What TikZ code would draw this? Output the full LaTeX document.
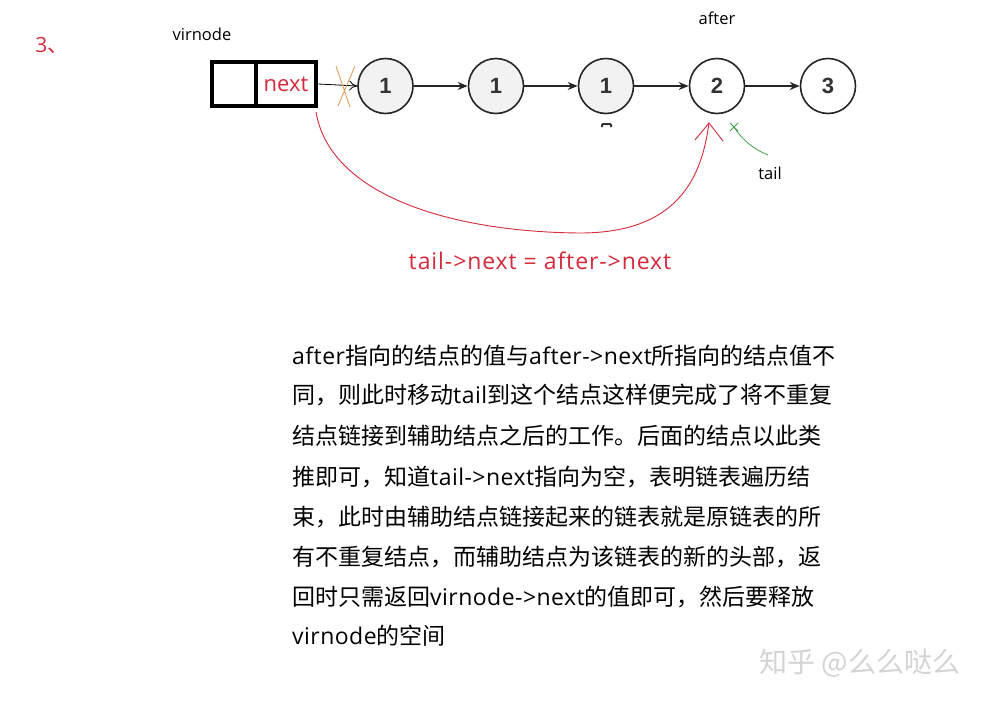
\documentclass[tikz,border=0pt]{standalone}
\usepackage{fontspec}
\setmainfont{Open Sans}
\newfontfamily\cjk{Noto Sans CJK SC}
\newfontfamily\numfont{Liberation Sans}
\newfontfamily\latinsp[LetterSpace=2]{Open Sans}
\newfontfamily\latinwide[LetterSpace=4]{Open Sans}
\usetikzlibrary{arrows.meta}
\definecolor{myred}{HTML}{D42A3C}
\definecolor{mygreen}{HTML}{3FA14A}
\definecolor{myorange}{HTML}{E0A060}
\definecolor{cfill}{HTML}{F2F2F2}
\definecolor{wm}{HTML}{D4D4D4}
\newcommand{\zh}[1]{{\cjk #1}}
\tikzset{
  lnode/.style={circle,draw=black!85,line width=1.6pt,minimum size=55pt,inner sep=0pt,text=black!80,font=\numfont\bfseries\fontsize{22}{22}\selectfont},
  gnode/.style={lnode,fill=cfill},
  wnode/.style={lnode,fill=white},
  link/.style={-{Stealth[length=10pt,width=8pt]},line width=1.4pt,black!85},
  lbl/.style={font=\fontsize{16.5}{16.5}\selectfont,inner sep=0pt},
  body/.style={font=\latinsp\fontsize{23}{23}\selectfont,anchor=base west,inner sep=0pt}
}
\begin{document}
\begin{tikzpicture}[x=1pt,y=-1pt]
\useasboundingbox (0,0) rectangle (994,707);
\fill[white] (0,0) rectangle (994,707);
% labels
\node[lbl,text=myred,font=\fontsize{21}{21}\selectfont] (three) at (52,45) {3\zh{、}};
\node[lbl] (virlbl) at (202,34) {virnode};
\node[lbl] (afterlbl) at (717,18) {after};
\node[lbl] (taillbl) at (770,173) {tail};
% virnode box
\node[draw,line width=4.5pt,minimum width=44pt,minimum height=44pt,inner sep=0pt] (vleft) at (234,84) {};
\node[draw,line width=4.5pt,minimum width=60pt,minimum height=44pt,inner sep=0pt,text=myred,font=\fontsize{22}{22}\selectfont] (vnext) at (286,84) {next};
% list nodes
\node[gnode] (n1) at (385.5,86) {1};
\node[gnode] (n2) at (496,86) {1};
\node[gnode] (n3) at (606,86) {1};
\node[wnode] (n4) at (717,86) {2};
\node[wnode] (n5) at (828,86) {3};
\draw[link] (n1) -- (n2);
\draw[link] (n2) -- (n3);
\draw[link] (n3) -- (n4);
\draw[link] (n4) -- (n5);
% next -> first node (struck out)
\draw[-{To[length=8pt,width=10pt]},line width=0.8pt] (vnext.east) -- (n1.west);
\draw[myorange,line width=0.9pt] (336,66) -- (350,107) (355,66) -- (338,106);
% small mark under third node
\draw[black!80,line width=2pt,rounded corners=1pt] (602,127) -- (602,124) -- (611,124) -- (611,127);
% red curve
\coordinate (cstart) at (316,112);
\coordinate (ctip) at (709,123);
\draw[myred,line width=0.9pt] (cstart) .. controls (330,195) and (450,232) .. (580,233)
  .. controls (680,233) and (702,175) .. (ctip);
\draw[myred,line width=0.9pt] (695,140) -- (ctip) -- (723,141);
% green mark
\coordinate (gtip) at (734,127);
\draw[mygreen,line width=0.8pt] (gtip) .. controls (742,140) and (755,150) .. (768,155);
\draw[mygreen,line width=0.8pt] (730,123) -- (738,131) (738,123) -- (730,131);
% formula
\node[lbl,text=myred,font=\latinwide\fontsize{23}{23}\selectfont] (formula) at (540,261) {tail->next = after->next};
% body text
\node[body] (b1) at (292,364) {after\zh{指向的结点的值与}after->next\zh{所指向的结点值不}};
\node[body] (b2) at (292,403) {\zh{同，则此时移动}tail\zh{到这个结点这样便完成了将不重复}};
\node[body] (b3) at (292,444) {\zh{结点链接到辅助结点之后的工作。后面的结点以此类}};
\node[body] (b4) at (292,485) {\zh{推即可，知道}tail->next\zh{指向为空，表明链表遍历结}};
\node[body] (b5) at (292,525) {\zh{束，此时由辅助结点链接起来的链表就是原链表的所}};
\node[body] (b6) at (292,565) {\zh{有不重复结点，而辅助结点为该链表的新的头部，返}};
\node[body] (b7) at (292,605) {\zh{回时只需返回}virnode->next\zh{的值即可，然后要释放}};
\node[body] (b8) at (292,644) {virnode\zh{的空间}};
% watermark
\node[lbl,text=wm,font=\cjk\fontsize{28}{28}\selectfont] (wmark) at (860,663) {知乎 @么么哒么};
\end{tikzpicture}
\end{document}
